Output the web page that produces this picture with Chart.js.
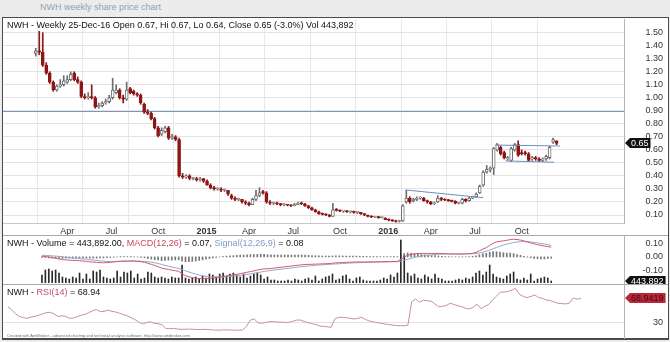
<!DOCTYPE html>
<html><head><meta charset="utf-8">
<script src="https://cdn.jsdelivr.net/npm/chart.js@4"></script>
<style>
body{margin:0;background:#ececec;width:670px;height:342px;overflow:hidden;position:relative;font-family:"Liberation Sans",Arial,sans-serif}
#title{position:absolute;left:40px;top:2px;font-size:9px;color:#8fa2b8;white-space:nowrap}
#frame{position:absolute;left:2px;top:17px;width:665px;height:320px;background:#fff;border:1px solid #4a4a4a;border-bottom-width:2px}
canvas{position:absolute;left:0}
.sep{position:absolute;left:3px;width:665px;height:1px;background:#a8a8a8}
.hdr{position:absolute;left:7px;font-size:9px;color:#111;white-space:nowrap;line-height:10px}
#foot{position:absolute;left:7px;top:333px;font-size:4px;color:#5d6f8a;white-space:nowrap;line-height:5px}
</style></head><body>
<div id="title">NWH weekly share price chart</div>
<div id="frame"></div>
<canvas id="cPrice" width="670" height="217" style="top:18px"></canvas>
<canvas id="cMacd" width="670" height="49" style="top:235px"></canvas>
<canvas id="cRsi" width="670" height="55" style="top:284px"></canvas>
<div class="sep" style="top:235px"></div>
<div class="sep" style="top:284px"></div>
<div class="hdr" style="top:20px">NWH - Weekly 25-Dec-16 Open 0.67, Hi 0.67, Lo 0.64, Close 0.65 (-3.0%) Vol 443,892</div>
<div class="hdr" style="top:238px">NWH - Volume = 443,892.00, <span style="color:#cf4658">MACD(12,26)</span> = 0.07, <span style="color:#7f9cc8">Signal(12,26,9)</span> = 0.08</div>
<div class="hdr" style="top:287px">NWH - <span style="color:#c2506e">RSI(14)</span> = 68.94</div>
<div id="foot">Created with AmiBroker - advanced charting and technical analysis software. http://www.amibroker.com</div>
<script>
// ---------- DATA (weekly bars, index 0 = mid-Feb 2014, index 149 = 25-Dec-16) ----------
const open = [1.34,1.36,1.35,1.25,1.19,1.12,1.06,1.09,1.10,1.12,
1.14,1.19,1.14,1.12,1.01,1.00,1.01,1.00,0.93,0.94,
0.96,0.97,1.00,1.04,1.06,1.00,0.99,1.07,1.05,1.03,
1.02,0.95,0.89,0.88,0.84,0.77,0.72,0.74,0.77,0.69,
0.70,0.68,0.40,0.39,0.40,0.38,0.38,0.37,0.38,0.36,
0.33,0.31,0.30,0.30,0.29,0.29,0.25,0.23,0.22,0.22,
0.20,0.19,0.18,0.22,0.25,0.28,0.27,0.20,0.19,0.19,
0.185,0.18,0.18,0.175,0.17,0.18,0.19,0.185,0.17,0.155,
0.14,0.125,0.11,0.105,0.10,0.09,0.14,0.135,0.13,0.13,
0.125,0.125,0.12,0.12,0.11,0.10,0.09,0.085,0.085,0.08,
0.075,0.065,0.06,0.055,0.05,0.055,0.20,0.23,0.21,0.22,
0.23,0.23,0.21,0.20,0.185,0.20,0.23,0.22,0.215,0.21,
0.205,0.19,0.19,0.22,0.21,0.23,0.24,0.27,0.33,0.43,
0.45,0.46,0.60,0.62,0.58,0.53,0.52,0.60,0.64,0.58,
0.58,0.57,0.53,0.54,0.53,0.52,0.53,0.54,0.66,0.67];
const high = [1.38,1.51,1.50,1.27,1.20,1.13,1.10,1.14,1.17,1.17,
1.20,1.20,1.16,1.13,1.03,1.04,1.10,1.01,0.96,0.97,
0.99,1.02,1.15,1.10,1.07,1.02,1.12,1.08,1.06,1.04,
1.03,0.96,0.91,0.89,0.85,0.78,0.77,0.78,0.78,0.72,
0.71,0.69,0.42,0.41,0.41,0.39,0.39,0.39,0.38,0.37,
0.34,0.32,0.31,0.31,0.30,0.29,0.26,0.24,0.23,0.22,
0.21,0.20,0.23,0.29,0.31,0.29,0.28,0.21,0.20,0.20,
0.19,0.19,0.18,0.18,0.19,0.20,0.20,0.19,0.175,0.16,
0.145,0.13,0.115,0.11,0.105,0.19,0.15,0.14,0.135,0.135,
0.13,0.13,0.125,0.12,0.11,0.10,0.095,0.09,0.09,0.085,
0.08,0.07,0.065,0.06,0.06,0.18,0.29,0.24,0.23,0.24,
0.24,0.235,0.215,0.205,0.20,0.25,0.235,0.225,0.22,0.215,
0.21,0.20,0.23,0.225,0.24,0.245,0.27,0.33,0.44,0.48,
0.47,0.62,0.65,0.63,0.59,0.55,0.62,0.65,0.67,0.60,
0.59,0.58,0.55,0.55,0.54,0.54,0.56,0.63,0.69,0.67];
const low = [1.32,1.33,1.24,1.18,1.11,1.05,1.05,1.08,1.09,1.11,
1.13,1.13,1.11,1.00,0.99,0.99,0.99,0.92,0.92,0.93,
0.95,0.96,0.99,1.03,0.99,0.96,0.98,1.03,1.02,1.01,
0.95,0.88,0.87,0.83,0.76,0.70,0.71,0.73,0.68,0.68,
0.67,0.39,0.38,0.38,0.37,0.37,0.36,0.36,0.35,0.33,
0.30,0.29,0.29,0.28,0.28,0.25,0.22,0.21,0.21,0.19,
0.18,0.17,0.18,0.21,0.24,0.26,0.19,0.18,0.18,0.18,
0.17,0.17,0.17,0.165,0.17,0.18,0.18,0.165,0.15,0.135,
0.12,0.105,0.10,0.095,0.085,0.09,0.13,0.125,0.12,0.12,
0.115,0.115,0.11,0.105,0.095,0.085,0.08,0.08,0.075,0.075,
0.065,0.055,0.05,0.045,0.045,0.05,0.19,0.19,0.20,0.21,
0.22,0.205,0.19,0.18,0.18,0.195,0.21,0.21,0.205,0.20,
0.185,0.185,0.185,0.20,0.205,0.225,0.235,0.265,0.32,0.42,
0.43,0.41,0.59,0.56,0.53,0.52,0.51,0.59,0.55,0.56,
0.56,0.51,0.52,0.52,0.51,0.51,0.52,0.53,0.65,0.64];
const close = [1.36,1.35,1.25,1.19,1.12,1.06,1.09,1.10,1.13,1.14,
1.18,1.14,1.12,1.01,1.00,1.01,1.00,0.93,0.94,0.96,
0.97,1.00,1.06,1.06,1.00,0.99,1.06,1.04,1.03,1.02,
0.96,0.89,0.88,0.84,0.77,0.71,0.75,0.77,0.69,0.70,
0.68,0.40,0.39,0.40,0.38,0.38,0.37,0.38,0.36,0.33,
0.31,0.30,0.30,0.29,0.29,0.26,0.23,0.22,0.22,0.20,
0.19,0.18,0.22,0.25,0.27,0.27,0.20,0.19,0.19,0.185,
0.18,0.18,0.175,0.17,0.18,0.19,0.185,0.17,0.155,0.14,
0.125,0.11,0.105,0.10,0.09,0.14,0.135,0.13,0.13,0.125,
0.125,0.12,0.12,0.11,0.10,0.09,0.085,0.085,0.08,0.08,
0.065,0.06,0.055,0.05,0.055,0.17,0.23,0.20,0.22,0.23,
0.23,0.21,0.20,0.185,0.19,0.23,0.22,0.215,0.21,0.205,
0.19,0.19,0.22,0.21,0.23,0.235,0.26,0.32,0.43,0.45,
0.45,0.61,0.64,0.57,0.54,0.54,0.61,0.64,0.56,0.57,
0.57,0.52,0.54,0.53,0.52,0.53,0.55,0.62,0.68,0.65];
const volume = [1760000,2860000,3080000,2640000,2860000,2200000,1320000,1100000,880000,1320000,
1100000,2200000,880000,1980000,880000,2640000,2420000,2860000,1320000,1100000,
880000,1100000,2640000,1320000,2420000,2200000,2640000,1100000,1980000,880000,
1100000,2420000,2200000,1320000,1100000,1320000,1100000,880000,1320000,1100000,
1100000,3960000,1100000,880000,1100000,1320000,880000,1540000,1100000,1980000,
1760000,1320000,1980000,2200000,1540000,1980000,2200000,1760000,1320000,1980000,
1100000,1540000,1980000,2200000,1760000,880000,1320000,660000,660000,440000,
440000,440000,660000,440000,880000,660000,440000,880000,1100000,660000,
1540000,440000,880000,1320000,1540000,1980000,660000,880000,1540000,1760000,
880000,440000,1100000,1320000,660000,440000,440000,440000,440000,660000,
1100000,880000,1760000,1320000,2200000,9460000,5940000,2200000,1540000,1980000,
1100000,880000,1760000,1320000,880000,1980000,1100000,880000,440000,440000,
440000,660000,880000,660000,1100000,880000,1320000,2200000,2640000,1760000,
2420000,3960000,1980000,1320000,1100000,880000,1540000,1980000,2420000,880000,
660000,1100000,660000,1980000,440000,880000,1100000,1320000,1100000,443892];
const macd = [0.005,0.003,0,-0.005,-0.01,-0.015,-0.02,-0.022,-0.024,-0.025,
-0.026,-0.028,-0.03,-0.033,-0.036,-0.038,-0.04,-0.042,-0.043,-0.042,
-0.04,-0.037,-0.033,-0.031,-0.03,-0.03,-0.029,-0.03,-0.032,-0.035,
-0.04,-0.047,-0.055,-0.063,-0.072,-0.082,-0.088,-0.092,-0.098,-0.102,
-0.106,-0.125,-0.138,-0.146,-0.152,-0.156,-0.159,-0.16,-0.159,-0.157,
-0.155,-0.152,-0.148,-0.144,-0.14,-0.136,-0.132,-0.128,-0.123,-0.118,
-0.113,-0.108,-0.103,-0.097,-0.092,-0.088,-0.087,-0.085,-0.082,-0.079,
-0.076,-0.073,-0.07,-0.067,-0.064,-0.061,-0.058,-0.056,-0.055,-0.054,
-0.053,-0.052,-0.051,-0.05,-0.049,-0.046,-0.044,-0.042,-0.041,-0.04,
-0.039,-0.038,-0.037,-0.037,-0.037,-0.037,-0.037,-0.036,-0.036,-0.035,
-0.035,-0.035,-0.034,-0.034,-0.033,-0.018,0,0.012,0.018,0.022,
0.025,0.026,0.026,0.025,0.025,0.026,0.026,0.025,0.024,0.023,
0.022,0.022,0.022,0.022,0.023,0.024,0.027,0.033,0.045,0.058,
0.068,0.085,0.1,0.11,0.115,0.118,0.122,0.128,0.13,0.128,
0.124,0.118,0.11,0.103,0.096,0.09,0.085,0.08,0.076,0.072];
const signal = [0.012,0.011,0.01,0.008,0.006,0.004,0.001,-0.002,-0.005,-0.008,
-0.01,-0.013,-0.015,-0.017,-0.02,-0.023,-0.026,-0.029,-0.031,-0.033,
-0.034,-0.035,-0.034,-0.034,-0.033,-0.032,-0.032,-0.031,-0.031,-0.032,
-0.033,-0.035,-0.039,-0.043,-0.049,-0.055,-0.062,-0.068,-0.074,-0.08,
-0.085,-0.093,-0.102,-0.111,-0.119,-0.126,-0.133,-0.138,-0.142,-0.145,
-0.147,-0.148,-0.148,-0.147,-0.146,-0.144,-0.141,-0.139,-0.136,-0.132,
-0.129,-0.125,-0.121,-0.116,-0.112,-0.107,-0.103,-0.1,-0.096,-0.093,
-0.09,-0.087,-0.084,-0.081,-0.078,-0.075,-0.072,-0.069,-0.067,-0.064,
-0.062,-0.06,-0.058,-0.057,-0.055,-0.053,-0.052,-0.05,-0.048,-0.047,
-0.045,-0.044,-0.043,-0.042,-0.041,-0.04,-0.039,-0.039,-0.038,-0.038,
-0.037,-0.037,-0.036,-0.036,-0.035,-0.032,-0.025,-0.018,-0.01,-0.004,
0.002,0.006,0.01,0.013,0.015,0.017,0.019,0.02,0.021,0.021,
0.021,0.021,0.021,0.021,0.022,0.022,0.023,0.025,0.029,0.035,
0.041,0.05,0.06,0.07,0.079,0.087,0.094,0.1,0.106,0.11,
0.112,0.113,0.112,0.11,0.107,0.103,0.099,0.095,0.09,0.082];
const macdHist = [-0.004,-0.005,-0.007,-0.009,-0.01,-0.011,-0.011,-0.01,-0.009,-0.009,
-0.008,-0.008,-0.008,-0.009,-0.009,-0.009,-0.009,-0.008,-0.007,-0.006,
-0.004,-0.002,0.001,0.003,0.003,0.002,0.003,0.001,-0.001,-0.003,
-0.007,-0.012,-0.016,-0.02,-0.023,-0.027,-0.026,-0.024,-0.024,-0.022,
-0.021,-0.032,-0.036,-0.035,-0.033,-0.03,-0.026,-0.022,-0.017,-0.012,
-0.008,-0.004,0,0.003,0.006,0.008,0.009,0.011,0.013,0.014,
0.016,0.017,0.018,0.019,0.02,0.019,0.016,0.015,0.014,0.014,
0.014,0.014,0.014,0.014,0.014,0.014,0.014,0.013,0.012,0.01,
0.009,0.008,0.007,0.007,0.006,0.007,0.008,0.008,0.007,0.007,
0.006,0.006,0.006,0.005,0.005,0.004,0.003,0.003,0.002,0.002,
0.002,0.002,0.002,0.002,0.002,0.014,0.025,0.03,0.028,0.026,
0.023,0.02,0.016,0.012,0.01,0.009,0.007,0.005,0.003,0.002,
0.001,0.001,0.001,0.001,0.001,0.002,0.004,0.008,0.016,0.023,
0.027,0.035,0.04,0.038,0.036,0.031,0.028,0.028,0.024,0.018,
0.012,0.005,-0.002,-0.007,-0.011,-0.013,-0.014,-0.015,-0.012,-0.01];
const rsi = [55.5,50,44,40,38,37,39,40,42,44,
46,46.6,44,40,41,40,37,37.5,39.6,42,
43,46,49,51,47.6,48,50.2,48,47,45,
43,41,38,35,31,28,30,31.6,29,28.5,
27,21,20.5,21,20,19.5,19.5,19.8,19.5,19.2,
19,19.5,19.2,18.5,18.3,18,18.6,18.5,18.3,18,
18.3,18.2,24,34,36,30,29,30.5,31.6,31.6,
31,31,30.5,30.5,32,34,34.3,32,30,28.5,
27,25,24,23.6,22.5,36,38.6,38.6,38,37,
35.9,37,38.6,35,32.7,31.5,30,29,28,27,
26.3,25.5,25.2,25.2,26,63.5,67.8,62.5,66,65,
64.3,60,55.5,56,57.5,61,59,57,55.5,53,
51.8,55,59.5,52.5,56,59,66,72,78.5,79,
79.6,82,84.8,75.3,72,70,72,74.2,70,68.8,
66,65.5,63,61,60.5,60,61,69.4,67.5,68.94];
// tick labels on the date axis (bar index -> label)
const dateTickIdx = [7,20,33,46,59,72,85,98,111,124,137];
const dateTickLabels = ['Apr','Jul','Oct','2015','Apr','Jul','Oct','2016','Apr','Jul','Oct'];
const priceTicks = [0.1,0.2,0.3,0.4,0.5,0.6,0.7,0.8,0.9,1.0,1.1,1.2,1.3,1.4,1.5];
const macdTicks = [0.1,0,-0.1];
const rsiTicks = [30];
// drawn study lines (bar index, price)
const horizLevel = 0.90;
const trendWedge = [{x:105.8,y:0.292},{x:128,y:0.233}];
const channelTop = [{x:131.4,y:0.637},{x:150,y:0.63}];
const channelBottom = [{x:134.4,y:0.515},{x:148.3,y:0.505}];
const lastClose = 0.65, lastVolume = 443892, lastRsi = 68.9419;

// ---------- RENDER ----------
const FONT = '"Liberation Sans", Arial, sans-serif';
Chart.defaults.font.family = FONT;
Chart.defaults.animation = false;
const idx = close.map((_, i) => i);
const isUp = i => close[i] >= open[i];
const UPC = '#6e6e6e', DNC = '#8e1616';
const XMIN = -1.3, XMAX = 160.2;
const AXW = 39;
const commonPlugins = {legend:{display:false}, tooltip:{enabled:false}};
function noPad(s){ s.paddingTop = 0; s.paddingBottom = 0; s.paddingLeft = 0; s.paddingRight = 0; }
function hiddenX(){ return {type:'linear', min:XMIN, max:XMAX, display:false}; }
function rightAxis(min, max, ticks, fmt, gridOn){
  return {type:'linear', position:'right', min, max,
    afterFit(s){ s.width = AXW; noPad(s); },
    afterBuildTicks(s){ s.ticks = ticks.map(v => ({value:v})); },
    ticks:{callback:fmt, font:{size:9}, color:'#333', crossAlign:'far', padding:0, autoSkip:false},
    grid:{display:gridOn, color:'#e3e3e3', drawTicks:false},
    border:{display:true, color:'#b4b4b4'}};
}
function tag(axisId, value, text, bg, fg){
  return {id:'tag_'+axisId, afterDraw(chart){
    const s = chart.scales[axisId], ctx = chart.ctx;
    const y = Math.round(s.getPixelForValue(value));
    ctx.save();
    ctx.font = '9px ' + FONT;
    const w = ctx.measureText(text).width;
    const x0 = chart.chartArea.right + 1, h = 10;
    ctx.beginPath();
    ctx.moveTo(x0, y); ctx.lineTo(x0 + 5, y - h/2); ctx.lineTo(x0 + 8 + w, y - h/2);
    ctx.lineTo(x0 + 8 + w, y + h/2); ctx.lineTo(x0 + 5, y + h/2); ctx.closePath();
    ctx.fillStyle = bg; ctx.fill();
    ctx.fillStyle = fg; ctx.textBaseline = 'middle'; ctx.textAlign = 'left';
    ctx.fillText(text, x0 + 6, y + 0.5);
    ctx.restore();
  }};
}
const levelPlugin = {id:'level', beforeDatasetsDraw(chart){
  const s = chart.scales.y, a = chart.chartArea, ctx = chart.ctx;
  const y = Math.round(s.getPixelForValue(horizLevel)) + 0.5;
  ctx.save(); ctx.strokeStyle = '#7d96c4'; ctx.lineWidth = 1;
  ctx.beginPath(); ctx.moveTo(a.left, y); ctx.lineTo(a.right, y); ctx.stroke(); ctx.restore();
}};
const trendDs = d => ({type:'line', data:d, borderColor:'#6f8dbd', borderWidth:1, pointRadius:0, order:-1});

new Chart(document.getElementById('cPrice'), {
  type:'bar',
  data:{datasets:[
    {data: idx.map(i => ({x:i, y:[open[i], close[i]]})),
     backgroundColor: idx.map(i => isUp(i) ? '#ffffff' : DNC),
     borderColor: idx.map(i => isUp(i) ? UPC : DNC),
     borderWidth:1, borderSkipped:false, barThickness:3, minBarLength:1, grouped:false, order:0},
    {data: idx.map(i => ({x:i, y:[low[i], high[i]]})),
     backgroundColor: idx.map(i => isUp(i) ? UPC : DNC),
     borderWidth:0, barThickness:1, grouped:false, order:1},
    trendDs(trendWedge), trendDs(channelTop), trendDs(channelBottom)
  ]},
  options:{responsive:false, devicePixelRatio:1,
    layout:{padding:{left:3, right:7, top:1, bottom:0}},
    plugins: commonPlugins,
    scales:{
      x:{type:'linear', min:XMIN, max:XMAX, position:'bottom',
        afterFit(s){ s.height = 12; noPad(s); },
        afterBuildTicks(s){ s.ticks = dateTickIdx.map(v => ({value:v})); },
        ticks:{autoSkip:false, maxRotation:0, align:'start', padding:3, color:'#333',
          callback:v => dateTickLabels[dateTickIdx.indexOf(v)],
          font: c => ({size:9, weight: /^\d{4}$/.test(dateTickLabels[c.index] || '') ? 'bold' : 'normal'})},
        grid:{color:'#e8e8e8', drawTicks:false},
        border:{display:true, color:'#c8c8c8'}},
      y: rightAxis(0.0386, 1.605, priceTicks, v => v.toFixed(2), true)
    }},
  plugins:[levelPlugin, tag('y', lastClose, lastClose.toFixed(2), '#111', '#fff')]
});

new Chart(document.getElementById('cMacd'), {
  type:'bar',
  data:{datasets:[
    {type:'line', yAxisID:'ym', data: idx.map(i => ({x:i, y:macd[i]})), borderColor:'#d4586e', borderWidth:1, pointRadius:0, order:-2},
    {type:'line', yAxisID:'ym', data: idx.map(i => ({x:i, y:signal[i]})), borderColor:'#8faad2', borderWidth:1, pointRadius:0, order:-1},
    {yAxisID:'ym', data: idx.map(i => ({x:i, y:macdHist[i]})), backgroundColor:'#777', barThickness:1, grouped:false, order:1},
    {yAxisID:'yv', data: idx.map(i => ({x:i, y:volume[i]})), backgroundColor:'#2a2a2a', barThickness:1, grouped:false, order:0}
  ]},
  options:{responsive:false, devicePixelRatio:1,
    layout:{padding:{left:3, right:7, top:1, bottom:1}},
    plugins: commonPlugins,
    scales:{
      x: hiddenX(),
      yv:{type:'linear', display:false, min:0, max:10340000},
      ym: rightAxis(-0.192, 0.154, macdTicks, v => v.toFixed(2), false)
    }},
  plugins:[tag('yv', lastVolume, lastVolume.toLocaleString('en-US'), '#111', '#fff')]
});

new Chart(document.getElementById('cRsi'), {
  type:'line',
  data:{datasets:[
    {data: idx.map(i => ({x:i, y:rsi[i]})), borderColor:'#c98ea2', borderWidth:1, pointRadius:0}
  ]},
  options:{responsive:false, devicePixelRatio:1,
    layout:{padding:{left:3, right:7, top:1, bottom:1}},
    plugins: commonPlugins,
    scales:{
      x: hiddenX(),
      y: rightAxis(5.6, 90.1, rsiTicks, v => String(v), true)
    }},
  plugins:[tag('y', lastRsi, String(lastRsi), '#b8263a', '#4a0810')]
});
</script>
</body></html>
